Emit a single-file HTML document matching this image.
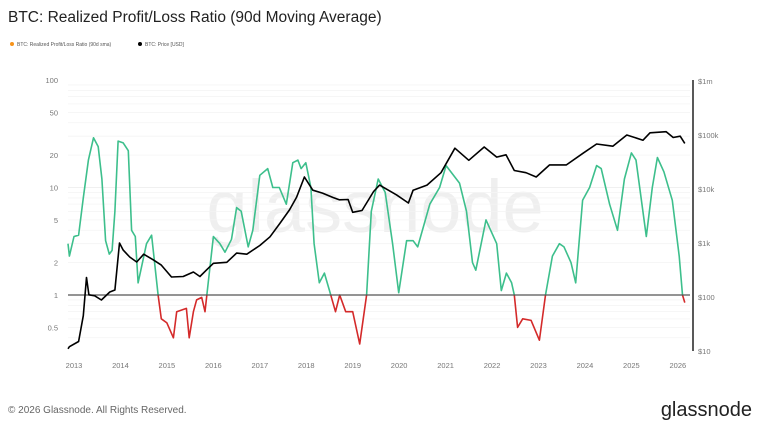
<!DOCTYPE html>
<html><head><meta charset="utf-8">
<style>
body{margin:0;background:#fff;width:767px;height:428px;overflow:hidden;font-family:"Liberation Sans",sans-serif;}
</style></head>
<body>
<svg id="chart" width="767" height="428" xmlns="http://www.w3.org/2000/svg">
<text x="8" y="22" font-size="15.5" fill="#222" font-family="Liberation Sans,sans-serif">BTC: Realized Profit/Loss Ratio (90d Moving Average)</text>
<g><circle cx="12" cy="44" r="2" fill="#f7931a"/><text x="17" y="46" font-size="5" fill="#555">BTC: Realized Profit/Loss Ratio (90d sma)</text></g>
<g><circle cx="140" cy="44" r="2" fill="#000"/><text x="145" y="46" font-size="5" fill="#555">BTC: Price [USD]</text></g>
<text x="375" y="232" font-size="74" fill="#efefef" text-anchor="middle" font-family="Liberation Sans,sans-serif">glassnode</text>
<g id="grid"></g>
<g id="axes"></g>
<g id="series"></g>
<text x="8" y="413" font-size="10" fill="#666">© 2026 Glassnode. All Rights Reserved.</text>
<text x="752" y="416" font-size="20" fill="#222" text-anchor="end">glassnode</text>
</svg>
<script>
const ratioT=[2012.87,2012.9,2013.0,2013.1,2013.2,2013.31,2013.42,2013.52,2013.6,2013.68,2013.76,2013.82,2013.88,2013.95,2014.06,2014.17,2014.24,2014.32,2014.38,2014.45,2014.56,2014.67,2014.81,2014.88,2015.0,2015.14,2015.21,2015.42,2015.48,2015.57,2015.64,2015.75,2015.82,2015.89,2016.0,2016.14,2016.25,2016.39,2016.5,2016.6,2016.75,2016.85,2017.0,2017.17,2017.28,2017.42,2017.57,2017.71,2017.82,2017.89,2017.99,2018.1,2018.17,2018.28,2018.39,2018.5,2018.63,2018.72,2018.85,2019.0,2019.15,2019.3,2019.4,2019.55,2019.7,2019.86,2019.99,2020.16,2020.3,2020.4,2020.66,2020.87,2021.01,2021.3,2021.45,2021.58,2021.65,2021.87,2022.1,2022.2,2022.31,2022.42,2022.48,2022.55,2022.66,2022.84,2023.02,2023.15,2023.3,2023.45,2023.55,2023.7,2023.8,2023.95,2024.1,2024.25,2024.35,2024.53,2024.7,2024.85,2025.0,2025.1,2025.32,2025.45,2025.56,2025.7,2025.88,2026.03,2026.1,2026.15];
const ratioV=[3.0,2.3,3.5,3.6,8,18,29,24,12,3.2,2.4,2.6,6,27,26,22,4,3.5,1.3,1.8,3.0,3.6,1.0,0.6,0.55,0.4,0.7,0.75,0.4,0.7,0.9,0.95,0.7,1.3,3.5,3.0,2.5,3.3,6.5,6,2.8,4,13,15,10,10,7,17,18,15,17,10,3,1.3,1.6,1.1,0.7,1.0,0.7,0.7,0.35,1.0,6,12,9,3.0,1.05,3.2,3.2,2.8,7,10,16,11,6,2,1.7,5,3,1.1,1.6,1.3,1.0,0.5,0.6,0.58,0.38,1.0,2.3,3.0,2.8,2.0,1.3,7.6,10,16,15,7,4,12,21,18,3.5,10,19,14,7.6,2.3,1.0,0.85];
const priceT=[2012.87,2012.9,2013.1,2013.2,2013.27,2013.32,2013.45,2013.59,2013.77,2013.88,2013.98,2014.06,2014.2,2014.35,2014.5,2014.7,2014.88,2015.1,2015.35,2015.57,2015.71,2015.85,2016.0,2016.29,2016.5,2016.72,2017.0,2017.22,2017.43,2017.64,2017.79,2017.96,2018.14,2018.35,2018.57,2018.71,2018.9,2019.0,2019.2,2019.45,2019.58,2019.94,2020.2,2020.3,2020.6,2020.9,2021.2,2021.5,2021.83,2022.1,2022.3,2022.48,2022.73,2022.95,2023.24,2023.6,2023.96,2024.25,2024.6,2024.9,2025.25,2025.4,2025.75,2025.9,2026.05,2026.15];
const priceV=[11,12,15,45,230,110,105,88,124,135,1000,740,550,445,620,490,390,235,240,290,240,315,420,440,650,620,900,1300,2300,4100,7000,16700,9500,8400,7000,6300,6400,3700,4000,9000,11800,7800,5500,9500,11800,20000,57000,34000,60000,39000,43000,22000,20000,16700,28000,28000,46000,68000,62000,100000,80000,110000,115000,90000,95000,70000];
const leftTicks=[100,50,20,10,5,2,1,0.5];
const leftTickLabels=["100","50","20","10","5","2","1","0.5"];
const rightTicks=[1e6,1e5,1e4,1e3,100,10];
const rightTickLabels=["$1m","$100k","$10k","$1k","$100","$10"];
const yearTicks=[2013,2014,2015,2016,2017,2018,2019,2020,2021,2022,2023,2024,2025,2026];

const NS="http://www.w3.org/2000/svg";
const X0=68,X1=690;
function xs(t){return 74+(t-2013)*46.45;}
function yl(v){return 295-107.5*Math.log10(v);}
function yr(p){return 297-54*(Math.log10(p)-2);}
function mk(tag,attrs,parent){const e=document.createElementNS(NS,tag);for(const k in attrs)e.setAttribute(k,attrs[k]);parent.appendChild(e);return e;}
const grid=document.getElementById('grid'),axes=document.getElementById('axes'),series=document.getElementById('series');
for(let d=-1;d<2;d++){for(let m=1;m<10;m++){const v=m*Math.pow(10,d);if(v<0.33||v>100)continue;const y=yl(v);
const l=mk('line',{x1:X0,x2:X1,y1:y,y2:y,stroke:m==1?'#ebebeb':'#f4f4f4','stroke-width':0.8},grid);

}}
leftTicks.forEach((v,i)=>{const t=mk('text',{x:58,y:yl(v)+3,'font-size':7.5,fill:'#777','text-anchor':'end'},axes);t.textContent=leftTickLabels[i];

});
rightTicks.forEach((v,i)=>{const t=mk('text',{x:698,y:yr(v)+3,'font-size':7.5,fill:'#777'},axes);t.textContent=rightTickLabels[i];

});
yearTicks.forEach(yv=>{const t=mk('text',{x:xs(yv),y:368,'font-size':7.5,fill:'#777','text-anchor':'middle'},axes);t.textContent=yv;

});
const ax=mk('line',{x1:693,x2:693,y1:80,y2:351,stroke:'#222','stroke-width':1.5},axes);


const defs=mk('defs',{},series);
const cg=mk('clipPath',{id:'cg'},defs);mk('rect',{x:0,y:0,width:767,height:yl(1)},cg);
const cr=mk('clipPath',{id:'cr'},defs);mk('rect',{x:0,y:yl(1),width:767,height:200},cr);
const rd=ratioT.map((t,i)=>(i?'L':'M')+xs(t).toFixed(1)+','+yl(ratioV[i]).toFixed(1)).join('');
const g1=mk('path',{d:rd,fill:'none',stroke:'#3dbf8c','stroke-width':1.6,'clip-path':'url(#cg)','stroke-linejoin':'round'},series);


const r1=mk('path',{d:rd,fill:'none',stroke:'#d42a2a','stroke-width':1.6,'clip-path':'url(#cr)','stroke-linejoin':'round'},series);


const one=mk('line',{x1:X0,x2:X1,y1:yl(1),y2:yl(1),stroke:'#555','stroke-width':1.2},series);


const pd=priceT.map((t,i)=>(i?'L':'M')+xs(t).toFixed(1)+','+yr(priceV[i]).toFixed(1)).join('');
const p1=mk('path',{d:pd,fill:'none',stroke:'#000','stroke-width':1.6,'stroke-linejoin':'round'},series);


</script>
</body></html>
